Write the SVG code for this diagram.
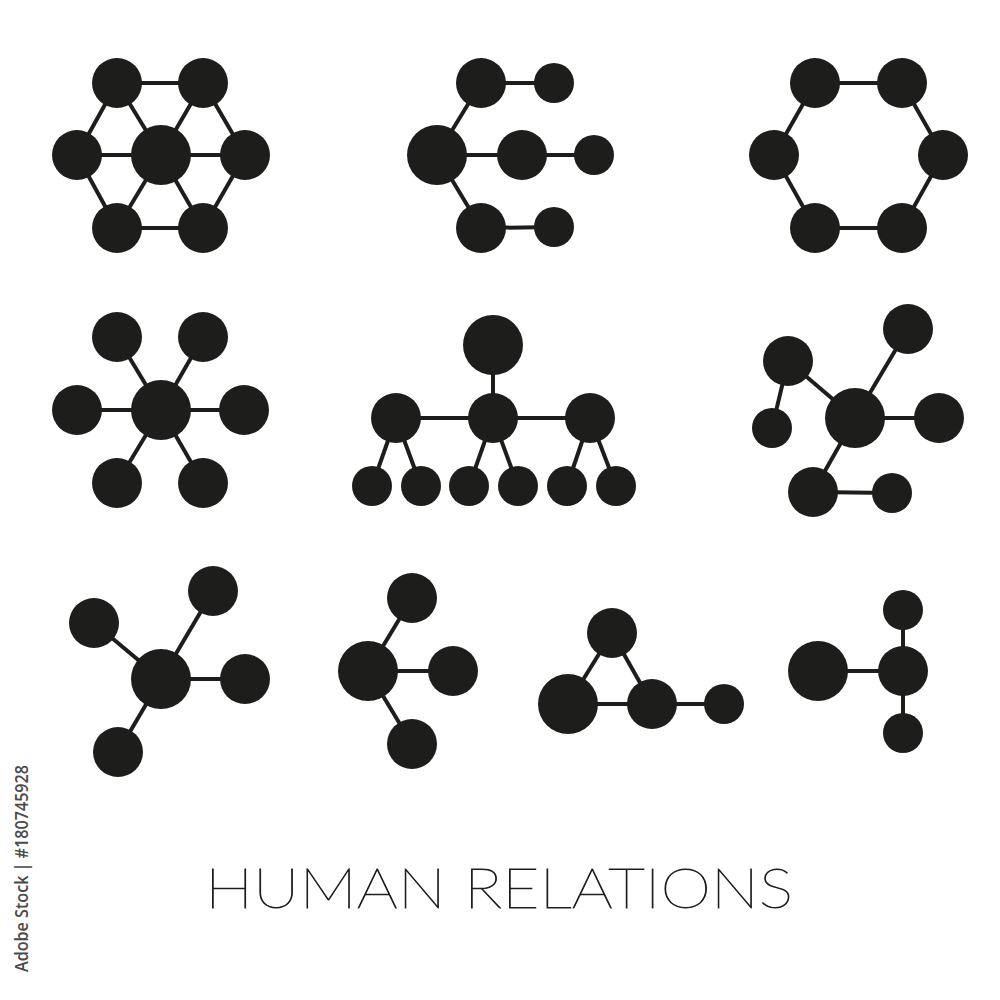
<svg xmlns="http://www.w3.org/2000/svg" width="1000" height="1000" viewBox="0 0 1000 1000">
<style>
  .e line { stroke: #1d1d1b; stroke-width: 4; }
  .n circle { fill: #1d1d1b; }
  .title { font-family: Lato, "Open Sans", "Liberation Sans", sans-serif; font-weight: 200; font-size: 56px; fill: #1d1d1b; stroke: #1d1d1b; stroke-width: 0.8; }
  .mark { font-family: "Open Sans", "Noto Sans", "Liberation Sans", sans-serif; font-weight: 600; font-size: 18px; fill: #4a4a4a; }
</style>
<rect width="1000" height="1000" fill="#ffffff"/>
<g id="connectors" class="e">
  <!-- icon 1 -->
  <line x1="117" y1="83" x2="203" y2="83"/>
  <line x1="203" y1="83" x2="245" y2="155"/>
  <line x1="245" y1="155" x2="203" y2="228"/>
  <line x1="203" y1="228" x2="117" y2="228"/>
  <line x1="117" y1="228" x2="77" y2="155"/>
  <line x1="77" y1="155" x2="117" y2="83"/>
  <line x1="161" y1="155" x2="117" y2="83"/>
  <line x1="161" y1="155" x2="203" y2="83"/>
  <line x1="161" y1="155" x2="77" y2="155"/>
  <line x1="161" y1="155" x2="245" y2="155"/>
  <line x1="161" y1="155" x2="117" y2="228"/>
  <line x1="161" y1="155" x2="203" y2="228"/>
  <!-- icon 2 -->
  <line x1="437" y1="155" x2="481" y2="83"/>
  <line x1="481" y1="83" x2="554" y2="83"/>
  <line x1="437" y1="155" x2="594" y2="155"/>
  <line x1="437" y1="155" x2="481" y2="228"/>
  <line x1="481" y1="228" x2="554" y2="227"/>
  <!-- icon 3 -->
  <line x1="815" y1="83" x2="902" y2="83"/>
  <line x1="902" y1="83" x2="943" y2="155"/>
  <line x1="943" y1="155" x2="902" y2="228"/>
  <line x1="902" y1="228" x2="815" y2="228"/>
  <line x1="815" y1="228" x2="774" y2="155"/>
  <line x1="774" y1="155" x2="815" y2="83"/>
  <!-- icon 4 -->
  <line x1="161" y1="410" x2="117" y2="337"/>
  <line x1="161" y1="410" x2="203" y2="337"/>
  <line x1="161" y1="410" x2="77" y2="410"/>
  <line x1="161" y1="410" x2="244" y2="410"/>
  <line x1="161" y1="410" x2="117" y2="483"/>
  <line x1="161" y1="410" x2="203" y2="483"/>
  <!-- icon 5 -->
  <line x1="493" y1="345" x2="493" y2="418"/>
  <line x1="396" y1="418" x2="590" y2="418"/>
  <line x1="396" y1="418" x2="372" y2="486"/>
  <line x1="396" y1="418" x2="421" y2="486"/>
  <line x1="493" y1="418" x2="469" y2="486"/>
  <line x1="493" y1="418" x2="518" y2="486"/>
  <line x1="590" y1="418" x2="567" y2="486"/>
  <line x1="590" y1="418" x2="616" y2="486"/>
  <!-- icon 6 -->
  <line x1="855" y1="418" x2="788" y2="361"/>
  <line x1="855" y1="418" x2="908" y2="329"/>
  <line x1="855" y1="418" x2="939" y2="418"/>
  <line x1="855" y1="418" x2="813" y2="492"/>
  <line x1="788" y1="361" x2="772" y2="428"/>
  <line x1="813" y1="492" x2="892" y2="493"/>
  <!-- icon 7 -->
  <line x1="161" y1="679" x2="94" y2="623"/>
  <line x1="161" y1="679" x2="213" y2="591"/>
  <line x1="161" y1="679" x2="245" y2="679"/>
  <line x1="161" y1="679" x2="118" y2="752"/>
  <!-- icon 8 -->
  <line x1="368" y1="671" x2="412" y2="598"/>
  <line x1="368" y1="671" x2="453" y2="671"/>
  <line x1="368" y1="671" x2="412" y2="744"/>
  <!-- icon 9 -->
  <line x1="612" y1="633" x2="568" y2="704"/>
  <line x1="612" y1="633" x2="652" y2="704"/>
  <line x1="568" y1="704" x2="724" y2="704"/>
  <!-- icon 10 -->
  <line x1="818" y1="671" x2="903" y2="671"/>
  <line x1="903" y1="610" x2="903" y2="733"/>
</g>
<g id="icon1" class="n">
  <circle cx="117" cy="83" r="25"/><circle cx="203" cy="83" r="25"/>
  <circle cx="77" cy="155" r="25"/><circle cx="161" cy="155" r="30"/><circle cx="245" cy="155" r="25"/>
  <circle cx="117" cy="228" r="25"/><circle cx="203" cy="228" r="25"/>
</g>
<g id="icon2" class="n">
  <circle cx="481" cy="83" r="25"/><circle cx="554" cy="83" r="20"/>
  <circle cx="437" cy="155" r="30"/><circle cx="522" cy="155" r="25"/><circle cx="594" cy="155" r="20"/>
  <circle cx="481" cy="228" r="25"/><circle cx="554" cy="227" r="20"/>
</g>
<g id="icon3" class="n">
  <circle cx="815" cy="83" r="25"/><circle cx="902" cy="83" r="25"/>
  <circle cx="774" cy="155" r="25"/><circle cx="943" cy="155" r="25"/>
  <circle cx="815" cy="228" r="25"/><circle cx="902" cy="228" r="25"/>
</g>
<g id="icon4" class="n">
  <circle cx="117" cy="337" r="25"/><circle cx="203" cy="337" r="25"/>
  <circle cx="77" cy="410" r="25"/><circle cx="161" cy="410" r="30"/><circle cx="244" cy="410" r="25"/>
  <circle cx="117" cy="483" r="25"/><circle cx="203" cy="483" r="25"/>
</g>
<g id="icon5" class="n">
  <circle cx="493" cy="345" r="30"/>
  <circle cx="396" cy="418" r="25"/><circle cx="493" cy="418" r="25"/><circle cx="590" cy="418" r="25"/>
  <circle cx="372" cy="486" r="20"/><circle cx="421" cy="486" r="20"/><circle cx="469" cy="486" r="20"/>
  <circle cx="518" cy="486" r="20"/><circle cx="567" cy="486" r="20"/><circle cx="616" cy="486" r="20"/>
</g>
<g id="icon6" class="n">
  <circle cx="788" cy="361" r="25"/><circle cx="908" cy="329" r="25"/>
  <circle cx="772" cy="428" r="20"/><circle cx="855" cy="418" r="30"/><circle cx="939" cy="418" r="25"/>
  <circle cx="813" cy="492" r="25"/><circle cx="892" cy="493" r="20"/>
</g>
<g id="icon7" class="n">
  <circle cx="94" cy="623" r="25"/><circle cx="213" cy="591" r="25"/>
  <circle cx="161" cy="679" r="30"/><circle cx="245" cy="679" r="25"/>
  <circle cx="118" cy="752" r="25"/>
</g>
<g id="icon8" class="n">
  <circle cx="412" cy="598" r="25"/><circle cx="368" cy="671" r="30"/>
  <circle cx="453" cy="671" r="25"/><circle cx="412" cy="744" r="25"/>
</g>
<g id="icon9" class="n">
  <circle cx="612" cy="633" r="25"/><circle cx="568" cy="704" r="30"/>
  <circle cx="652" cy="704" r="25"/><circle cx="724" cy="704" r="20"/>
</g>
<g id="icon10" class="n">
  <circle cx="903" cy="610" r="20"/><circle cx="818" cy="671" r="30"/>
  <circle cx="903" cy="671" r="25"/><circle cx="903" cy="733" r="20"/>
</g>
<text class="title" x="205" y="908" textLength="588" lengthAdjust="spacingAndGlyphs">HUMAN RELATIONS</text>
<text class="mark" transform="translate(28,972) rotate(-90)" textLength="207" lengthAdjust="spacingAndGlyphs">Adobe Stock | #180745928</text>
</svg>
